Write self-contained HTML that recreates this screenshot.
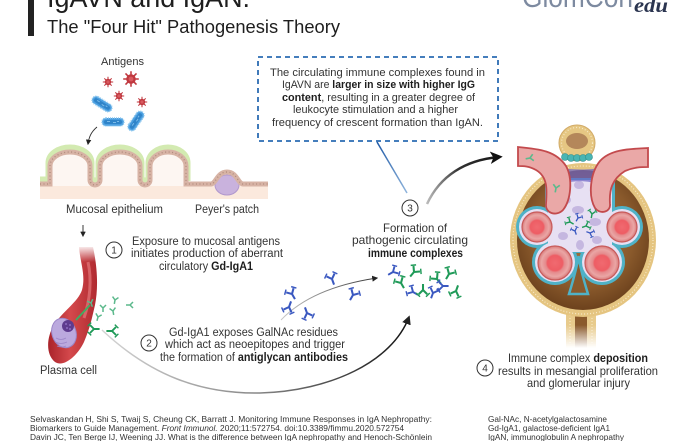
<!DOCTYPE html>
<html><head><meta charset="utf-8"><style>
html,body{margin:0;padding:0;background:#fff;}
svg{display:block;}
text{font-family:"Liberation Sans",Arial,sans-serif;fill:#333;}
.b{font-weight:bold;fill:#1e1e1e;}
</style></head><body>
<svg width="700" height="441" viewBox="0 0 700 441" xmlns="http://www.w3.org/2000/svg">
<defs>
 <marker id="ah" viewBox="0 0 10 10" refX="8" refY="5" markerWidth="6" markerHeight="6" orient="auto"><path d="M0,0L10,5L0,10z" fill="#222"/></marker>
 <marker id="ahB" viewBox="0 0 10 10" refX="7" refY="5" markerWidth="5" markerHeight="5" orient="auto"><path d="M0,0L10,5L0,10L2.5,5z" fill="#111"/></marker>
 <linearGradient id="gCurve" gradientUnits="userSpaceOnUse" x1="100" y1="0" x2="410" y2="0"><stop offset="0" stop-color="#d6d6d6"/><stop offset="0.5" stop-color="#888"/><stop offset="1" stop-color="#111"/></linearGradient>
 <linearGradient id="gSmall" gradientUnits="userSpaceOnUse" x1="281" y1="0" x2="378" y2="0"><stop offset="0" stop-color="#c8c8c8"/><stop offset="1" stop-color="#333"/></linearGradient>
 <linearGradient id="gBlue" gradientUnits="userSpaceOnUse" x1="0" y1="142" x2="0" y2="193"><stop offset="0" stop-color="#1f5aa6"/><stop offset="1" stop-color="#8fb4dc"/></linearGradient>
 <linearGradient id="gBig" gradientUnits="userSpaceOnUse" x1="427" y1="0" x2="505" y2="0"><stop offset="0" stop-color="#bbb"/><stop offset="0.4" stop-color="#333"/><stop offset="1" stop-color="#111"/></linearGradient>
 <linearGradient id="gVes" x1="0" y1="0" x2="1" y2="0"><stop offset="0" stop-color="#a9232a"/><stop offset="0.45" stop-color="#d4494c"/><stop offset="1" stop-color="#b02a30"/></linearGradient>
 <linearGradient id="gFadeTop" gradientUnits="userSpaceOnUse" x1="0" y1="245" x2="0" y2="262"><stop offset="0" stop-color="#fff" stop-opacity="1"/><stop offset="1" stop-color="#fff" stop-opacity="0"/></linearGradient>
 <linearGradient id="gFadeBot" gradientUnits="userSpaceOnUse" x1="0" y1="325" x2="0" y2="348"><stop offset="0" stop-color="#fff" stop-opacity="0"/><stop offset="1" stop-color="#fff" stop-opacity="1"/></linearGradient>
 <radialGradient id="gBrown" cx="0.5" cy="0.45" r="0.55"><stop offset="0" stop-color="#a57440"/><stop offset="0.7" stop-color="#8a5a2c"/><stop offset="1" stop-color="#6d421d"/></radialGradient>
 <radialGradient id="gLoop" cx="0.5" cy="0.5" r="0.5"><stop offset="0" stop-color="#f06a70"/><stop offset="0.45" stop-color="#ee5d64"/><stop offset="0.55" stop-color="#e58a8c"/><stop offset="0.8" stop-color="#eaa6a5"/><stop offset="1" stop-color="#d77878"/></radialGradient>
 <g id="virus">
  <path d="M0,-6.5V6.5M-6.5,0H6.5M-4.6,-4.6L4.6,4.6M-4.6,4.6L4.6,-4.6" stroke="#c0383f" stroke-width="1.3"/>
  <circle r="4" fill="#c0383f"/>
  <circle r="2" fill="#d85a5f"/>
 </g>
 <g id="bac">
  <rect x="-11" y="-4" width="22" height="8" rx="4" fill="#4a9ee0" stroke="#8fc9ef" stroke-width="1.6" stroke-dasharray="1 1"/>
  <rect x="-9" y="-2" width="18" height="4" rx="2" fill="#2f84c9"/>
  <path d="M-6,-0.5h3M0,0.5h3M4,-0.5h2" stroke="#7bbbe9" stroke-width="1"/>
 </g>
 <g id="abB">
  <path d="M0,7V0M0,0L-5,-5M0,0L5,-5" stroke="#3a58c0" stroke-width="2.4" fill="none"/>
  <path d="M-3.5,-8L-8,-3.5M3.5,-8L8,-3.5" stroke="#3a58c0" stroke-width="1.7"/>
 </g>
 <g id="abG">
  <path d="M0,7V0M0,0L-5,-5M0,0L5,-5" stroke="#1f9a58" stroke-width="2.4" fill="none"/>
  <path d="M-3.5,-8L-8,-3.5M3.5,-8L8,-3.5" stroke="#1f9a58" stroke-width="1.7"/>
 </g>
 <g id="abS">
  <path d="M0,4V0L-3,-3M0,0L3,-3" stroke="#5cb98c" stroke-width="1.5" fill="none"/>
 </g>
</defs>

<!-- Title -->
<rect x="28" y="0" width="6" height="36" fill="#222"/>
<text x="47" y="7" font-size="28" textLength="203" lengthAdjust="spacingAndGlyphs" style="fill:#1e1e1e">IgAVN and IgAN:</text>
<text x="47" y="33" font-size="18" textLength="293" lengthAdjust="spacingAndGlyphs" style="fill:#1e1e1e">The "Four Hit" Pathogenesis Theory</text>

<!-- Logo -->
<text x="522" y="7" font-size="30" textLength="111" lengthAdjust="spacingAndGlyphs" style="fill:#7d8aa0">GlomCon</text>
<text x="634" y="12" font-size="20" textLength="34" lengthAdjust="spacingAndGlyphs" style="font-family:'Liberation Serif',serif;font-weight:bold;font-style:italic;fill:#2b3550">edu</text>

<!-- Antigens -->
<text x="101" y="65" font-size="11" textLength="43" lengthAdjust="spacingAndGlyphs">Antigens</text>
<use href="#virus" transform="translate(108,82) scale(0.8)"/>
<use href="#virus" transform="translate(131,79) scale(1.2)"/>
<use href="#virus" transform="translate(119,96) scale(0.8)"/>
<use href="#virus" transform="translate(142,102) scale(0.8)"/>
<use href="#bac" transform="translate(102,104) rotate(32)"/>
<use href="#bac" transform="translate(113,122)"/>
<use href="#bac" transform="translate(136,121) rotate(-55)"/>
<path d="M97,127 C91,132 89,137 88,144" stroke="#333" stroke-width="0.9" fill="none" marker-end="url(#ah)"/>

<!-- Mucosa -->
<rect x="40" y="186" width="228" height="13" fill="#fbe9dd"/>
<path d="M40,184 H50 V166 A20,14 0 0 1 90,166 V180 A5,5 0 0 0 100,180 V166 A20,14 0 0 1 140,166 V180 A5,5 0 0 0 150,180 V166 A18,14 0 0 1 186,166 V184" transform="translate(0,-3)" stroke="#d3eab1" stroke-width="9" fill="none" stroke-linejoin="round"/>
<path d="M40,184 H50 V166 A20,14 0 0 1 90,166 V180 A5,5 0 0 0 100,180 V166 A20,14 0 0 1 140,166 V180 A5,5 0 0 0 150,180 V166 A18,14 0 0 1 186,166 V184 H211 C216,184 217,172 227,172 C237,172 238,184 243,184 H268 V186 H40 Z" fill="#fdf6f2"/>
<ellipse cx="227" cy="185" rx="12" ry="10" fill="#c9b2dd" stroke="#b198cd" stroke-width="1"/>
<path d="M40,184 H50 V166 A20,14 0 0 1 90,166 V180 A5,5 0 0 0 100,180 V166 A20,14 0 0 1 140,166 V180 A5,5 0 0 0 150,180 V166 A18,14 0 0 1 186,166 V184 H211 C216,184 217,172 227,172 C237,172 238,184 243,184 H268" stroke="#d7b3a5" stroke-width="5" fill="none"/>
<path d="M40,184 H50 V166 A20,14 0 0 1 90,166 V180 A5,5 0 0 0 100,180 V166 A20,14 0 0 1 140,166 V180 A5,5 0 0 0 150,180 V166 A18,14 0 0 1 186,166 V184 H211 C216,184 217,172 227,172 C237,172 238,184 243,184 H268" stroke="#b08a7c" stroke-width="1.3" fill="none" stroke-dasharray="1 2.5"/>
<text x="66" y="213" font-size="11.5" textLength="97" lengthAdjust="spacingAndGlyphs">Mucosal epithelium</text>
<text x="195" y="213" font-size="11.5" textLength="64" lengthAdjust="spacingAndGlyphs">Peyer's patch</text>
<path d="M83,225 V236" stroke="#222" stroke-width="0.9" marker-end="url(#ah)"/>

<!-- Step 1 -->
<circle cx="114" cy="250" r="8" fill="#fff" stroke="#333" stroke-width="1"/>
<text x="114" y="253.5" font-size="10" text-anchor="middle">1</text>
<text x="132" y="245" font-size="11.5" textLength="148" lengthAdjust="spacingAndGlyphs">Exposure to mucosal antigens</text>
<text x="131" y="257" font-size="11.5" textLength="152" lengthAdjust="spacingAndGlyphs">initiates production of aberrant</text>
<text x="159" y="270" font-size="11.5" textLength="94" lengthAdjust="spacingAndGlyphs">circulatory <tspan class="b">Gd-IgA1</tspan></text>

<!-- Plasma cell vessel -->
<path d="M79,247 C80,262 86,275 82,290 C78,302 62,312 54,325 C46,338 46,355 55,362 C64,368 78,355 84,342 C90,328 92,318 95,305 C98,290 98,270 93,247 Z" fill="url(#gVes)"/>
<path d="M88,262 C92,280 90,300 84,318" stroke="#e4787a" stroke-width="3" fill="none" opacity="0.7"/>
<rect x="70" y="244" width="35" height="18" fill="url(#gFadeTop)"/>
<ellipse cx="64" cy="333" rx="12" ry="15" transform="rotate(-20 64 333)" fill="#bba9de" stroke="#9c86c8" stroke-width="1"/>
<path d="M56,338 q5,3 10,0 M55,342 q6,3 12,0 M57,346 q5,2 9,0" stroke="#9c86c8" stroke-width="0.8" fill="none"/>
<circle cx="68" cy="326" r="6" fill="#5e3b8e"/>
<circle cx="66" cy="324" r="1" fill="#8d6cc0"/><circle cx="70" cy="325" r="1" fill="#8d6cc0"/><circle cx="67" cy="328" r="1" fill="#8d6cc0"/><circle cx="70" cy="329" r="1" fill="#8d6cc0"/>
<path d="M76,320 L90,305" stroke="#3fae62" stroke-width="2"/>
<use href="#abS" transform="translate(91,303) rotate(-20)"/>
<use href="#abS" transform="translate(103,308)"/>
<use href="#abS" transform="translate(115,300) rotate(10)"/>
<use href="#abS" transform="translate(113,311) rotate(-10)"/>
<use href="#abS" transform="translate(130,305) rotate(90)"/>
<use href="#abS" transform="translate(98,317) rotate(15)"/>
<use href="#abG" transform="translate(94,329) rotate(-90) scale(0.8)"/>
<use href="#abG" transform="translate(112,331) rotate(90) scale(0.8)"/>
<text x="40" y="374" font-size="11.5" textLength="57" lengthAdjust="spacingAndGlyphs">Plasma cell</text>

<!-- big curve from plasma cell -->
<path d="M102,330 C150,375 200,394 260,393 C330,391 392,362 409,317" stroke="url(#gCurve)" stroke-width="1.5" fill="none" marker-end="url(#ah)"/>

<!-- Step 2 -->
<circle cx="149" cy="343" r="8" fill="#fff" stroke="#333" stroke-width="1"/>
<text x="149" y="346.5" font-size="10" text-anchor="middle">2</text>
<text x="169" y="336" font-size="11.5" textLength="169" lengthAdjust="spacingAndGlyphs">Gd-IgA1 exposes GalNAc residues</text>
<text x="165" y="348" font-size="11.5" textLength="180" lengthAdjust="spacingAndGlyphs">which act as neoepitopes and trigger</text>
<text x="160" y="361" font-size="11.5" textLength="188" lengthAdjust="spacingAndGlyphs">the formation of <tspan class="b">antiglycan antibodies</tspan></text>

<!-- blue antibodies and arrow -->
<path d="M281,320 C300,300 330,285 377,278" stroke="url(#gSmall)" stroke-width="1" fill="none" marker-end="url(#ah)"/>
<use href="#abB" transform="translate(292,294) rotate(-30) scale(0.85)"/>
<use href="#abB" transform="translate(289,307) rotate(200) scale(0.85)"/>
<use href="#abB" transform="translate(307,313) rotate(160) scale(0.85)"/>
<use href="#abB" transform="translate(332,279) rotate(-20) scale(0.85)"/>
<use href="#abB" transform="translate(353,295) rotate(30) scale(0.85)"/>

<!-- Immune complexes -->
<use href="#abB" transform="translate(393,272) rotate(60) scale(0.8)"/>
<use href="#abG" transform="translate(401,283) rotate(-30) scale(0.85)"/>
<use href="#abG" transform="translate(414,272) rotate(40) scale(0.85)"/>
<use href="#abB" transform="translate(413,292) rotate(-60) scale(0.8)"/>
<use href="#abG" transform="translate(423,290) rotate(180) scale(0.85)"/>
<use href="#abG" transform="translate(437,279) rotate(-40) scale(0.85)"/>
<use href="#abB" transform="translate(433,293) rotate(20) scale(0.8)"/>
<use href="#abB" transform="translate(443,286) rotate(-90) scale(0.8)"/>
<use href="#abG" transform="translate(449,274) rotate(30) scale(0.85)"/>
<use href="#abG" transform="translate(456,291) rotate(200) scale(0.85)"/>

<!-- Dashed box -->
<rect x="258" y="57" width="240" height="84" fill="#fff" stroke="#2b6cb3" stroke-width="1.8" stroke-dasharray="5 4"/>
<text x="270" y="76" font-size="11" textLength="215" lengthAdjust="spacingAndGlyphs">The circulating immune complexes found in</text>
<text x="282" y="88" font-size="11" textLength="193" lengthAdjust="spacingAndGlyphs">IgAVN are <tspan class="b">larger in size with higher IgG</tspan></text>
<text x="282" y="101" font-size="11" textLength="193" lengthAdjust="spacingAndGlyphs"><tspan class="b">content</tspan>, resulting in a greater degree of</text>
<text x="293" y="113" font-size="11" textLength="165" lengthAdjust="spacingAndGlyphs">leukocyte stimulation and a higher</text>
<text x="272" y="126" font-size="11" textLength="211" lengthAdjust="spacingAndGlyphs">frequency of crescent formation than IgAN.</text>
<path d="M377,142 L407,193" stroke="url(#gBlue)" stroke-width="1.5"/>

<!-- Step 3 -->
<circle cx="410" cy="208" r="8" fill="#fff" stroke="#333" stroke-width="1"/>
<text x="410" y="211.5" font-size="10" text-anchor="middle">3</text>
<text x="383" y="232" font-size="12" textLength="64" lengthAdjust="spacingAndGlyphs">Formation of</text>
<text x="352" y="244" font-size="12" textLength="116" lengthAdjust="spacingAndGlyphs">pathogenic circulating</text>
<text x="368" y="257" font-size="12" textLength="95" lengthAdjust="spacingAndGlyphs" class="b">immune complexes</text>
<path d="M427,204 C440,176 465,160 499,157" stroke="url(#gBig)" stroke-width="2.5" fill="none" marker-end="url(#ahB)"/>

<!-- Glomerulus -->
<rect x="566" y="298" width="30" height="50" fill="#e8cb8c"/>
<rect x="575" y="298" width="12" height="50" fill="#8a5a2c"/>
<path d="M570,300V345M592,300V345" stroke="#f6e7c2" stroke-width="1.2" stroke-dasharray="1 2"/>
<ellipse cx="583" cy="240" rx="73" ry="77" fill="#e5c581"/>
<ellipse cx="583" cy="240" rx="70" ry="74" fill="none" stroke="#f7e9c6" stroke-width="1.2" stroke-dasharray="1 2"/>
<ellipse cx="583" cy="240" rx="66" ry="70" fill="url(#gBrown)"/>
<rect x="555" y="325" width="52" height="24" fill="url(#gFadeBot)"/>
<!-- tuft teal border -->
<g fill="#4fb2c7">
 <circle cx="537" cy="227" r="21"/><circle cx="622" cy="227" r="21"/>
 <circle cx="555" cy="262" r="23"/><circle cx="602" cy="262" r="23"/>
 <rect x="545" y="178" width="70" height="75"/>
</g>
<g fill="#e7e0f3">
 <circle cx="537" cy="227" r="18"/><circle cx="622" cy="227" r="18"/>
 <circle cx="555" cy="262" r="20"/><circle cx="602" cy="262" r="20"/>
 <rect x="548" y="180" width="64" height="72"/>
</g>
<path d="M569,294 Q577,268 578.5,256 Q580,268 588,294 Z" fill="#8a5a2c" stroke="#4fb2c7" stroke-width="2.5"/>
<!-- purple mesangial cells -->
<g fill="#c5b7e0">
 <ellipse cx="566" cy="200" rx="5" ry="4"/><ellipse cx="578" cy="210" rx="6" ry="4"/>
 <ellipse cx="595" cy="222" rx="6" ry="4"/><ellipse cx="563" cy="236" rx="5" ry="4"/>
 <ellipse cx="580" cy="245" rx="4" ry="5"/><ellipse cx="597" cy="240" rx="5" ry="4"/>
 <ellipse cx="579" cy="185" rx="5" ry="4"/>
</g>
<!-- capillary loops -->
<circle cx="537" cy="227" r="15" fill="url(#gLoop)" stroke="#c85a5a" stroke-width="1.2"/>
<circle cx="622" cy="227" r="15" fill="url(#gLoop)" stroke="#c85a5a" stroke-width="1.2"/>
<circle cx="555" cy="263" r="17" fill="url(#gLoop)" stroke="#c85a5a" stroke-width="1.2"/>
<circle cx="602" cy="263" r="17" fill="url(#gLoop)" stroke="#c85a5a" stroke-width="1.2"/>
<!-- arterioles -->
<path d="M560,168 C575,170 590,170 600,168 L600,185 C590,180 570,180 560,185Z" fill="#6b63c4" opacity="0.7"/>
<path d="M518,147 C540,149 556,151 566,166 C573,179 571,200 563,210 C556,217 545,213 546,204 C547,190 548,177 536,170 C529,166 523,166 518,166 Z" fill="#eaa8a7" stroke="#c34a4d" stroke-width="1.8"/>
<path d="M648,148 C626,149 610,150 600,161 C590,173 588,196 595,208 C600,215 611,212 610,204 C609,190 612,179 625,171 C634,167 642,167 648,167 Z" fill="#eaa8a7" stroke="#c34a4d" stroke-width="1.8"/>
<use href="#abS" transform="translate(530,158) rotate(80) scale(1.1)"/>
<use href="#abS" transform="translate(556,188) rotate(10) scale(1.1)"/>
<!-- top circle -->
<circle cx="577" cy="143" r="18" fill="#e6c783" stroke="#d1aa66" stroke-width="1"/>
<circle cx="577" cy="143" r="15.5" fill="none" stroke="#f7e9c6" stroke-width="1.2" stroke-dasharray="1 2"/>
<ellipse cx="577" cy="141" rx="11" ry="8" fill="#b4875a"/>
<g fill="#49b5b3" stroke="#2e8e8b" stroke-width="0.6">
 <circle cx="565" cy="157" r="3.5"/><circle cx="571" cy="158" r="3.5"/><circle cx="577" cy="158" r="3.5"/><circle cx="583" cy="158" r="3.5"/><circle cx="589" cy="157" r="3.5"/>
</g>
<!-- central complexes -->
<use href="#abG" transform="translate(570,222) rotate(-60) scale(0.6)"/>
<use href="#abB" transform="translate(578,218) rotate(30) scale(0.55)"/>
<use href="#abG" transform="translate(586,226) rotate(70) scale(0.6)"/>
<use href="#abB" transform="translate(575,231) rotate(-20) scale(0.55)"/>
<use href="#abG" transform="translate(592,214) rotate(10) scale(0.6)"/>
<use href="#abB" transform="translate(590,233) rotate(110) scale(0.55)"/>

<!-- Step 4 -->
<circle cx="485" cy="368" r="8" fill="#fff" stroke="#333" stroke-width="1"/>
<text x="485" y="371.5" font-size="10" text-anchor="middle">4</text>
<text x="508" y="362" font-size="12" textLength="140" lengthAdjust="spacingAndGlyphs">Immune complex <tspan class="b">deposition</tspan></text>
<text x="498" y="375" font-size="12" textLength="160" lengthAdjust="spacingAndGlyphs">results in mesangial proliferation</text>
<text x="527" y="387" font-size="12" textLength="103" lengthAdjust="spacingAndGlyphs">and glomerular injury</text>

<!-- Footer -->
<text x="30" y="422" font-size="8.6" textLength="402" lengthAdjust="spacingAndGlyphs">Selvaskandan H, Shi S, Twaij S, Cheung CK, Barratt J. Monitoring Immune Responses in IgA Nephropathy:</text>
<text x="30" y="431" font-size="8.6" textLength="374" lengthAdjust="spacingAndGlyphs">Biomarkers to Guide Management. <tspan font-style="italic">Front Immunol.</tspan> 2020;11:572754. doi:10.3389/fimmu.2020.572754</text>
<text x="30" y="440" font-size="8.6" textLength="402" lengthAdjust="spacingAndGlyphs">Davin JC, Ten Berge IJ, Weening JJ. What is the difference between IgA nephropathy and Henoch-Schönlein</text>
<text x="488" y="422" font-size="8.6" textLength="119" lengthAdjust="spacingAndGlyphs">Gal-NAc, N-acetylgalactosamine</text>
<text x="488" y="431" font-size="8.6" textLength="122" lengthAdjust="spacingAndGlyphs">Gd-IgA1, galactose-deficient IgA1</text>
<text x="488" y="440" font-size="8.6" textLength="136" lengthAdjust="spacingAndGlyphs">IgAN, immunoglobulin A nephropathy</text>
</svg>
</body></html>
